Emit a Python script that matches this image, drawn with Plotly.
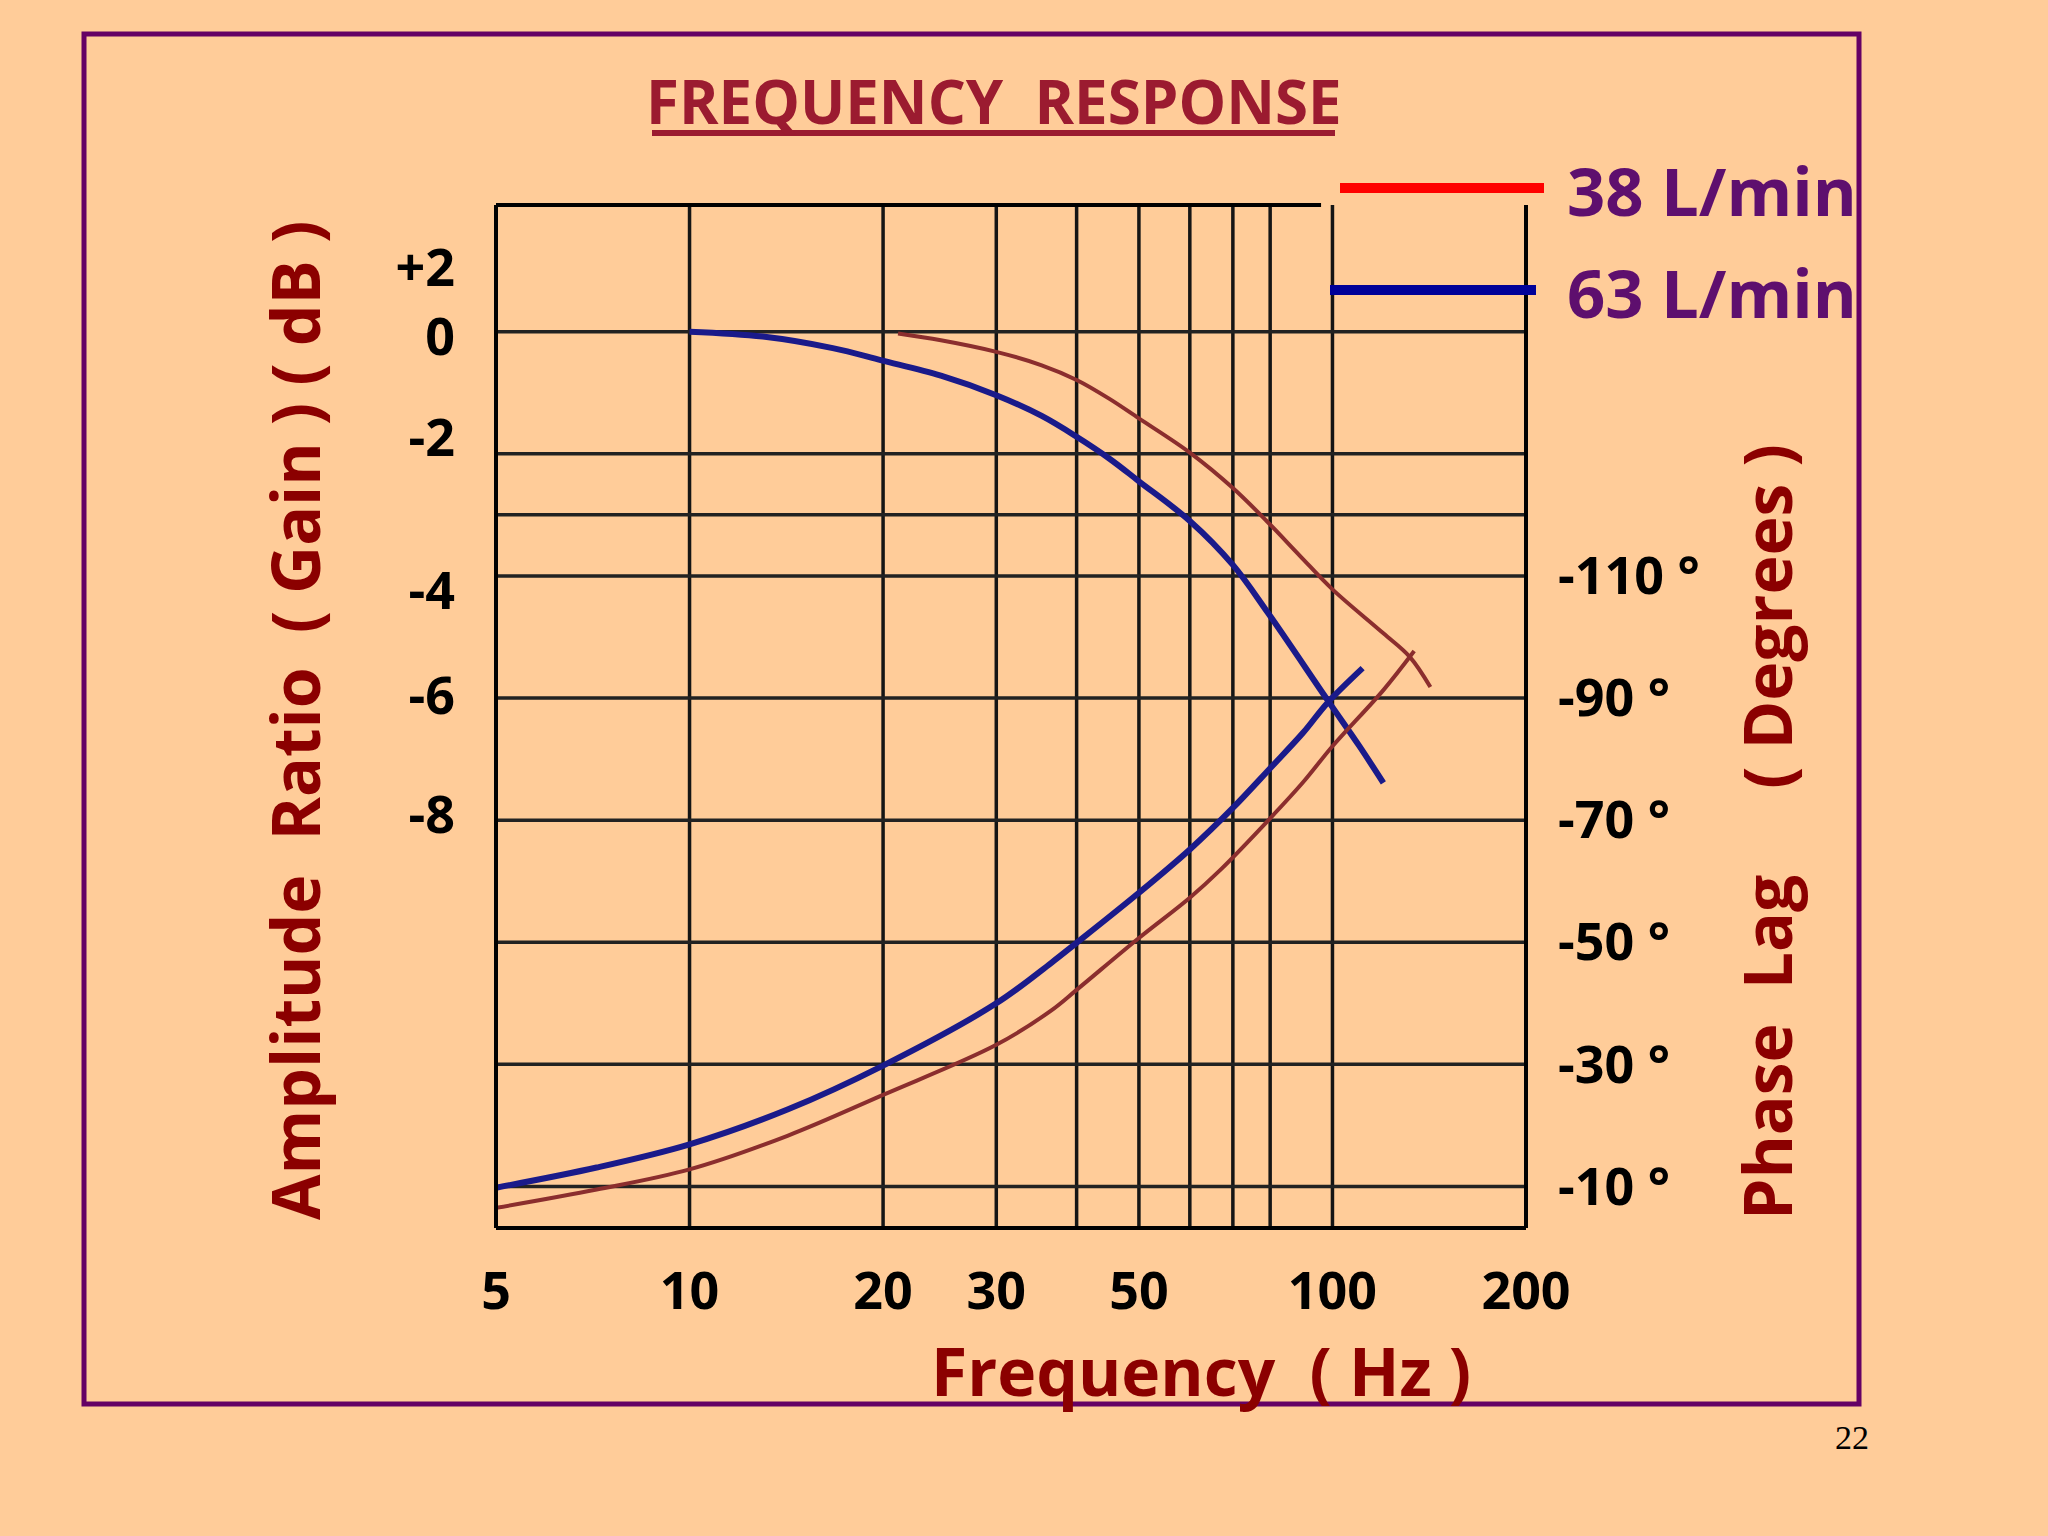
import math
import plotly.graph_objects as go

# ---------------- data ----------------
freq_gain_63 = [10, 13, 16.7, 19.9, 24.6, 30, 35.3, 40, 45, 50, 60, 70, 79.3, 98.2, 110, 120]
gain_63 = [0, -0.08, -0.27, -0.47, -0.72, -1.04, -1.38, -1.72, -2.08, -2.45, -3.10, -3.82, -4.60, -6.03, -6.78, -7.39]

freq_gain_38 = [21.1, 24.6, 30, 35.3, 40, 45, 50, 60, 70, 79, 89, 100, 120, 132, 142]
gain_38 = [-0.03, -0.14, -0.33, -0.55, -0.79, -1.10, -1.42, -1.98, -2.56, -3.10, -3.67, -4.22, -4.94, -5.33, -5.82]

freq_phase_63 = [5, 7.17, 10, 14.2, 20, 30, 36.5, 40, 50, 60, 70, 80, 90, 98.2, 111.4]
phase_63 = [-9.8, -13.1, -16.9, -22.6, -29.8, -40.0, -46.6, -49.9, -58.1, -65.2, -72.0, -78.5, -84.3, -89.2, -94.9]

freq_phase_38 = [5, 7.17, 10, 14.2, 20, 30, 36.5, 40, 50, 60, 67, 80, 90, 100, 120, 134]
phase_38 = [-6.5, -9.5, -12.8, -18.3, -25.0, -33.2, -38.8, -42.2, -50.7, -57.3, -61.9, -70.3, -76.2, -82.1, -91.3, -97.7]

series_names = ["38 L/min", "63 L/min"]

x_tick_vals = [5, 10, 20, 30, 50, 100, 200]
x_grid_vals = [10, 20, 30, 40, 50, 60, 70, 80, 100]
gain_grid_vals = [0, -2, -3, -4, -6, -8, -10, -12, -14]
gain_label_pos = [1.04, -0.09, -1.73, -4.24, -5.97, -7.92]
gain_label_text = ["+2", "0", "-2", "-4", "-6", "-8"]
phase_tick_vals = [-110, -90, -70, -50, -30, -10]
phase_tick_text = ["-110 °", "-90 °", "-70 °", "-50 °", "-30 °", "-10 °"]

FREQ_RANGE = [5, 200]
GAIN_RANGE = [-14.68, 2.075]
PHASE_RANGE = [-3.2, -170.75]
TOP_BORDER_END = 96  # Hz, top border stops under the legend

# ---------------- styling ----------------
W, H = 2048, 1536
BG = "#FFCC99"
FRAME = "#650065"
BLUE = "#1a1a8a"
RED = "#8b2e2e"
DARKRED = "#8B0000"
PURPLE = "#5E0F6E"
TITLE_C = "#9B1B30"
FONT = "Open Sans"

def px(x):
    return x / W

def py(y):
    return 1 - y / H

XDOM = [px(496), px(1526)]
YDOM = [py(1228), py(205)]

fig = go.Figure()

fig.add_trace(go.Scatter(x=freq_gain_38, y=gain_38, mode="lines", yaxis="y",
                         line=dict(color=RED, width=4, shape="spline", smoothing=1.0),
                         name=series_names[0] + " gain", showlegend=False))
fig.add_trace(go.Scatter(x=freq_phase_38, y=phase_38, mode="lines", yaxis="y2",
                         line=dict(color=RED, width=4, shape="spline", smoothing=1.0),
                         name=series_names[0] + " phase", showlegend=False))
fig.add_trace(go.Scatter(x=freq_gain_63, y=gain_63, mode="lines", yaxis="y",
                         line=dict(color=BLUE, width=6, shape="spline", smoothing=1.0),
                         name=series_names[1] + " gain", showlegend=False))
fig.add_trace(go.Scatter(x=freq_phase_63, y=phase_63, mode="lines", yaxis="y2",
                         line=dict(color=BLUE, width=6, shape="spline", smoothing=1.0),
                         name=series_names[1] + " phase", showlegend=False))

shapes = []
# vertical grid lines
for f in x_grid_vals:
    shapes.append(dict(type="line", xref="x", yref="y domain", x0=f, x1=f, y0=0, y1=1,
                       line=dict(color="#151515", width=3.5), layer="below"))
# horizontal grid lines
for g in gain_grid_vals:
    shapes.append(dict(type="line", xref="x domain", yref="y", x0=0, x1=1, y0=g, y1=g,
                       line=dict(color="#222222", width=3.5), layer="below"))
# plot border
shapes.append(dict(type="line", xref="x domain", yref="y domain", x0=0, x1=0, y0=0, y1=1,
                   line=dict(color="black", width=4)))
shapes.append(dict(type="line", xref="x domain", yref="y domain", x0=1, x1=1, y0=0, y1=1,
                   line=dict(color="black", width=4)))
shapes.append(dict(type="line", xref="x domain", yref="y domain", x0=0, x1=1, y0=0, y1=0,
                   line=dict(color="black", width=4)))
shapes.append(dict(type="line", xref="x", yref="y domain", x0=FREQ_RANGE[0], x1=TOP_BORDER_END,
                   y0=1, y1=1, line=dict(color="black", width=4)))
# slide frame
shapes.append(dict(type="rect", xref="paper", yref="paper", x0=px(84), x1=px(1859),
                   y0=py(1404), y1=py(34), line=dict(color=FRAME, width=5)))
# title underline
shapes.append(dict(type="line", xref="paper", yref="paper", x0=px(652), x1=px(1335),
                   y0=py(133), y1=py(133), line=dict(color=TITLE_C, width=6)))
# legend swatches
shapes.append(dict(type="line", xref="paper", yref="paper", x0=px(1340), x1=px(1544),
                   y0=py(188), y1=py(188), line=dict(color="#FF0000", width=10)))
shapes.append(dict(type="line", xref="paper", yref="paper", x0=px(1330), x1=px(1536),
                   y0=py(290), y1=py(290), line=dict(color="#000099", width=10)))

nb = "\u00a0"
annotations = [
    dict(text="FREQUENCY" + nb * 2 + "RESPONSE", x=px(993.5), y=py(101), xref="paper", yref="paper",
         xanchor="center", yanchor="middle", showarrow=False,
         font=dict(family=FONT, size=60, color=TITLE_C, weight="bold")),
    dict(text=series_names[0], x=px(1565), y=py(190), xref="paper", yref="paper",
         xanchor="left", yanchor="middle", showarrow=False,
         font=dict(family=FONT, size=67, color=PURPLE, weight="bold")),
    dict(text=series_names[1], x=px(1565), y=py(292), xref="paper", yref="paper",
         xanchor="left", yanchor="middle", showarrow=False,
         font=dict(family=FONT, size=67, color=PURPLE, weight="bold")),
    dict(text="Amplitude" + nb * 2 + "Ratio" + nb * 2 + "( Gain ) ( dB )", x=px(294), y=py(721),
         xref="paper", yref="paper", xanchor="center", yanchor="middle", textangle=-90,
         showarrow=False, font=dict(family=FONT, size=66, color=DARKRED, weight="bold")),
    dict(text="Phase" + nb * 2 + "Lag" + nb * 5 + "( Degrees )", x=px(1766), y=py(832),
         xref="paper", yref="paper", xanchor="center", yanchor="middle", textangle=-90,
         showarrow=False, font=dict(family=FONT, size=66, color=DARKRED, weight="bold")),
    dict(text="Frequency" + nb * 2 + "( Hz )", x=px(1201), y=py(1370), xref="paper", yref="paper",
         xanchor="center", yanchor="middle", showarrow=False,
         font=dict(family=FONT, size=66, color=DARKRED, weight="bold")),
    dict(text="22", x=px(1852), y=py(1437), xref="paper", yref="paper",
         xanchor="center", yanchor="middle", showarrow=False,
         font=dict(family="Liberation Serif", size=34, color="black")),
]

tickfont = dict(family=FONT, size=52, color="black", weight="bold")

fig.update_layout(
    width=W, height=H,
    margin=dict(l=0, r=0, t=0, b=0, autoexpand=False),
    paper_bgcolor=BG, plot_bgcolor=BG,
    showlegend=False,
    shapes=shapes,
    annotations=annotations,
    xaxis=dict(type="log", range=[math.log10(FREQ_RANGE[0]), math.log10(FREQ_RANGE[1])],
               domain=XDOM, tickvals=x_tick_vals, ticktext=[str(v) for v in x_tick_vals],
               showgrid=False, zeroline=False, showline=False, ticks="", automargin=False,
               tickfont=tickfont, ticklabelstandoff=28, anchor="y"),
    yaxis=dict(range=GAIN_RANGE, domain=YDOM, tickvals=gain_label_pos, ticktext=gain_label_text,
               showgrid=False, zeroline=False, showline=False, ticks="", automargin=False,
               tickfont=tickfont, ticklabelstandoff=40, anchor="x"),
    yaxis2=dict(range=PHASE_RANGE, overlaying="y", side="right", anchor="x",
                tickvals=phase_tick_vals, ticktext=phase_tick_text, automargin=False,
                showgrid=False, zeroline=False, showline=False, ticks="",
                tickfont=tickfont, ticklabelstandoff=31),
)

fig.write_html("out.html")
